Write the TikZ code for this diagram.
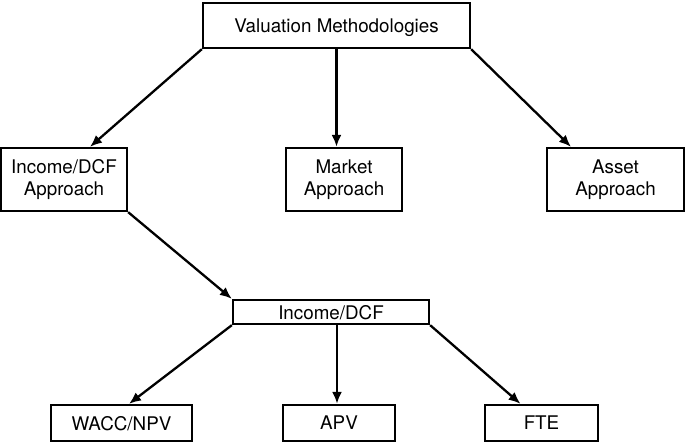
\documentclass[tikz,border=0pt]{standalone}
\usepackage{fontspec}
\setmainfont{TeX Gyre Heros}
\usetikzlibrary{arrows.meta}
\begin{document}
\begin{tikzpicture}[x=1pt,y=-1pt,
  box/.style={draw=black,line width=2.3pt,fill=white,rectangle,inner sep=0pt,align=center,
    font=\fontsize{18.8}{22}\selectfont},
  single/.style={text depth=0pt},
  conn/.style={line width=2.3pt,-{Latex[length=12pt,width=10pt]}}]
\useasboundingbox[fill=white] (0,0) rectangle (685,442);
\node[box,single,minimum width=267pt,minimum height=45pt] (top) at (336.5,25.5) {Valuation Methodologies};
\node[box,minimum width=126pt,minimum height=63pt] (incA) at (64,179.5) {Income/DCF\\Approach};
\node[box,minimum width=116pt,minimum height=63pt] (mkt) at (344,179.5) {Market\\Approach};
\node[box,minimum width=137pt,minimum height=63pt] (asset) at (615.5,179.5) {Asset\\Approach};
\node[box,single,minimum width=196pt,minimum height=24pt] (inc) at (331,312) {Income/DCF};
\node[box,single,minimum width=141pt,minimum height=36pt] (wacc) at (121.5,423) {WACC/NPV};
\node[box,single,minimum width=112pt,minimum height=36pt] (apv) at (339,423) {APV};
\node[box,single,minimum width=113pt,minimum height=36pt] (fte) at (541.5,423) {FTE};
\draw[conn] (top.south west) -- ([xshift=26pt]incA.north);
\draw[conn] (top.south) -- (top.south |- mkt.north);
\draw[conn] (top.south east) -- ([xshift=-44.5pt]asset.north);
\draw[conn] (incA.south east) -- (inc.north west);
\draw[conn] (inc.south west) -- ([xshift=7.5pt]wacc.north);
\draw[conn] ([xshift=6pt]inc.south) -- ([xshift=6pt]inc.south |- apv.north);
\draw[conn] (inc.south east) -- ([xshift=-21pt]fte.north);
\end{tikzpicture}
\end{document}
